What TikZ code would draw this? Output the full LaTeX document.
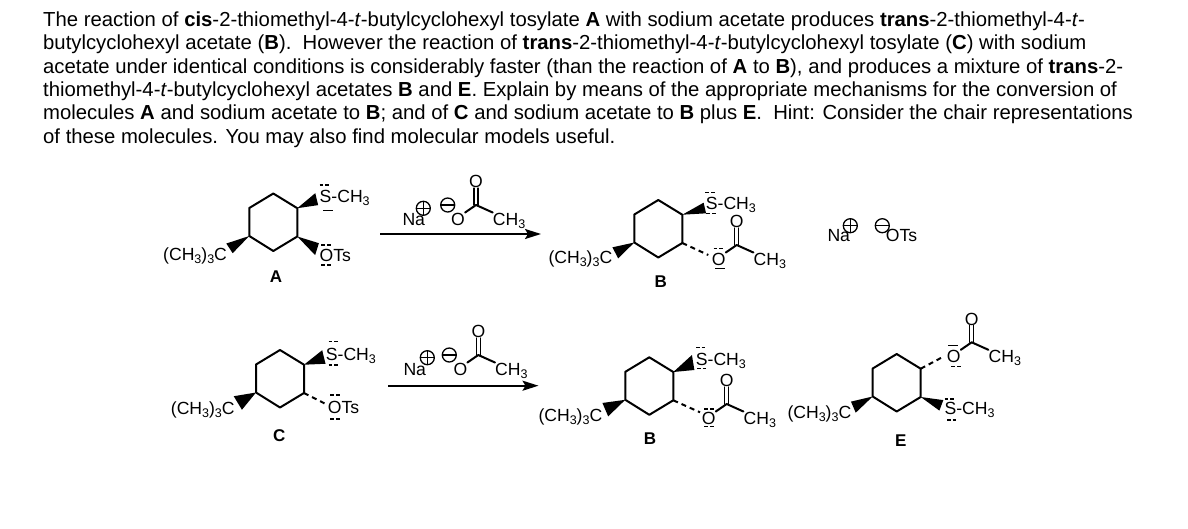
\documentclass[tikz,border=0pt]{standalone}
\usepackage{fontspec}
\setmainfont{Liberation Sans}
\usetikzlibrary{arrows.meta,calc}
\newcommand{\lsub}[1]{\raisebox{-3pt}{\fontsize{12.5}{12.5}\selectfont #1}}
\newcommand{\tbu}{(CH\lsub{3})\lsub{3}C}
\newcommand{\meth}{CH\lsub{3}}
% ring: prefix, top vertex
\newcommand{\chemring}[3]{%
  \coordinate (#1t) at (#2,#3);
  \coordinate (#1ur) at (#2+24,#3+14.7);
  \coordinate (#1lr) at (#2+24,#3+43);
  \coordinate (#1b) at (#2,#3+57.5);
  \coordinate (#1ll) at (#2-24,#3+42.5);
  \coordinate (#1ul) at (#2-24,#3+14.5);
  \draw[bond] (#1t)--(#1ur)--(#1lr)--(#1b)--(#1ll)--(#1ul)--cycle;}
% acetyl group: prefix, carbonyl C
\newcommand{\acetyl}[3]{%
  \coordinate (#1c) at (#2,#3);
  \node[atom] (#1o) at (#2-25,#3+20) {O};
  \node[atom] (#1dbl) at (#2-7,#3-17.3) {O};
  \node[atom] (#1me) at (#2+16.7,#3+20) {\meth};
  \draw[bond] (#1o.north east)--(#1c)--(#1me.north west);
  \draw[bond,line width=1.5pt] ([xshift=-2pt]#1c)--([xshift=-2pt]#1c|-#1dbl.south);
  \draw[bond,line width=1.5pt] ([xshift=2pt]#1c)--([xshift=2pt]#1c|-#1dbl.south);}
% solid wedge from a ring vertex to a widened end
\newcommand{\wdg}[5]{\fill (#1)--($(#2,#3)!-0.22!(#4,#5)$)--($(#4,#5)!-0.22!(#2,#3)$)--cycle;}
\newcommand{\lp}[2]{\draw[lpair] (#1-4.6,#2)--(#1-1,#2) (#1+1,#2)--(#1+4.6,#2);}
\newcommand{\lpbar}[2]{\draw[lpair] (#1-5,#2)--(#1+5,#2);}
\newcommand{\charge}[3]{%
  \draw[chg] (#2,#3) circle (7);
  \draw[chg] (#2-7,#3)--(#2+7,#3);
  \ifx#1+\draw[chg] (#2,#3-7)--(#2,#3+7);\fi}
\begin{document}
\begin{tikzpicture}[x=1pt,y=-1pt,
  bond/.style={line width=2pt,line join=round,line cap=round},
  atom/.style={anchor=base west,inner sep=0pt,font=\fontsize{17.6}{17.6}\selectfont},
  lbl/.style={anchor=base,inner sep=0pt,font=\fontsize{17}{17}\selectfont\bfseries},
  para/.style={anchor=base west,inner sep=0pt,font=\fontsize{20.3}{20.3}\selectfont},
  lpair/.style={line width=1.5pt},
  chg/.style={line width=1.3pt},
  hash/.style={line width=2pt,dash pattern=on 5pt off 4pt},
  rxn/.style={line width=2pt,-{Stealth[length=16pt,width=10pt,inset=3pt]}}]
\useasboundingbox (0,0) rectangle (1188,528);
\fill[white] (0,0) rectangle (1188,528);
% paragraph
\node[para] (l1) at (43,26.5) {The reaction of \textbf{cis}-2-thiomethyl-4-\textit{t}-butylcyclohexyl tosylate \textbf{A} with sodium acetate produces \textbf{trans}-2-thiomethyl-4-\textit{t}-};
\node[para] (l2) at (43,49.8) {butylcyclohexyl acetate (\textbf{B}).\ \ However the reaction of \textbf{trans}-2-thiomethyl-4-\textit{t}-butylcyclohexyl tosylate (\textbf{C}) with sodium};
\node[para] (l3) at (43,73.1) {acetate under identical conditions is considerably faster (than the reaction of \textbf{A} to \textbf{B}), and produces a mixture of \textbf{trans}-2-};
\node[para] (l4) at (43,96.4) {thiomethyl-4-\textit{t}-butylcyclohexyl acetates \textbf{B} and \textbf{E}. Explain by means of the appropriate mechanisms for the conversion of};
\node[para] (l5) at (43,119.7) {molecules \textbf{A} and sodium acetate to \textbf{B}; and of \textbf{C} and sodium acetate to \textbf{B} plus \textbf{E}.\ \ Hint: Consider the chair representations};
\node[para] (l6) at (43,143) {of these molecules. You may also find molecular models useful.};
% --- A
\chemring{a}{273.3}{193.5}
\wdg{aur}{315.7}{195}{317.7}{203.3}
\wdg{alr}{318.3}{245}{315.7}{253.3}
\wdg{all}{227.3}{245}{231.7}{251.7}
\node[atom] (aS) at (319.5,202.7) {S-\meth};
\node[atom] (aO) at (319.5,261.7) {OTs};
\node[atom] (aT) at (163,260) {\tbu};
\lp{324.3}{185}\lpbar{328.3}{210.7}\lp{326}{245}\lp{326}{265}
\node[lbl] (aL) at (276,282.5) {A};
% reagent 1
\node[atom] (na1) at (402.3,225) {Na};
\charge{+}{423.3}{208.3}\charge{-}{447.7}{205}
\acetyl{r}{476}{205}
\coordinate (r1s) at (380,234);
\coordinate (r1e) at (541,234);
\draw[rxn] (r1s)--(r1e);
% --- B top
\chemring{b}{658.3}{200}
\wdg{bur}{704}{204.3}{705.7}{211.7}
\wdg{bll}{613.3}{249}{617.3}{256.7}
\node[atom] (bS) at (705.7,209.3) {S-\meth};
\node[atom] (bT) at (548.3,263.3) {\tbu};
\acetyl{p}{736.7}{245}
\draw[hash] (blr)--(708.3,255);
\lp{710}{192.3}\lp{711}{213.3}\lp{718.3}{248.3}\lpbar{720}{268.3}
\node[lbl] (bL) at (660.7,287.7) {B};
\node[atom] (na2) at (827.3,241.7) {Na};
\charge{+}{850.3}{225.7}\charge{-}{882.3}{225.7}
\node[atom] (ots) at (885.7,241.7) {OTs};
% --- C
\chemring{c}{280}{350}
\wdg{cur}{322.7}{352.3}{325}{361.7}
\wdg{cll}{235}{398.3}{240.7}{407.7}
\draw[hash] (clr)--(327.7,405);
\node[atom] (cS) at (325.7,360) {S-\meth};
\node[atom] (cO) at (327.7,413.3) {OTs};
\node[atom] (cT) at (170.7,414) {\tbu};
\lp{333.3}{341.7}\lp{333.3}{365}\lp{335}{395}\lp{335}{419}
\node[lbl] (cL) at (279.3,441) {C};
% reagent 2
\node[atom] (na3) at (403.3,375) {Na};
\charge{+}{427.3}{357.7}\charge{-}{449.3}{355}
\acetyl{s}{478.3}{355}
\coordinate (r2s) at (388,385.7);
\coordinate (r2e) at (538.5,385.7);
\draw[rxn] (r2s)--(r2e);
% --- B bottom
\chemring{d}{649.3}{357.3}
\wdg{dur}{692.3}{357.3}{694}{367.7}
\wdg{dll}{603.3}{405}{607.3}{414.3}
\draw[hash] (dlr)--(700,412.3);
\node[atom] (dS) at (695.7,365.7) {S-\meth};
\node[atom] (dT) at (538.3,421.7) {\tbu};
\acetyl{q}{726.7}{404}
\lp{700.7}{347.3}\lp{701.7}{368.3}\lp{709}{409}\lp{709}{426.7}
\node[lbl] (dL) at (650,444.3) {B};
% --- E
\chemring{e}{896.7}{354}
\wdg{ell}{851.7}{403.3}{855}{411}
\wdg{elr}{942.7}{401.7}{940}{409}
\draw[hash] (eur)--(943.3,356.7);
\node[atom] (eT) at (787.3,418.3) {\tbu};
\node[atom] (eS) at (944.3,414.3) {S-\meth};
\acetyl{u}{971.7}{342.3}
\lpbar{953.3}{345.7}\lp{956}{366.7}\lp{949.3}{399}\lp{951.7}{420}
\node[lbl] (eL) at (900.7,446.7) {E};
\end{tikzpicture}
\end{document}
